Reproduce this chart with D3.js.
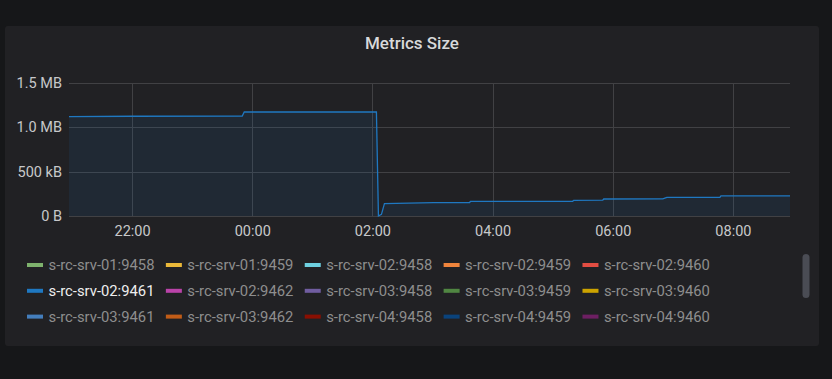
<!DOCTYPE html>
<html>
<head>
<meta charset="utf-8">
<script src="https://cdn.jsdelivr.net/npm/d3@7"></script>
<style>
  html, body { margin: 0; padding: 0; background: #161719; }
  svg { display: block; font-family: Roboto, "Noto Sans", sans-serif; }
</style>
</head>
<body>
<svg id="chart" width="832" height="379"></svg>
<script>
// panel data
var panelTitle = "Metrics Size";
var seriesNames = [
    "s-rc-srv-01:9458", "s-rc-srv-01:9459", "s-rc-srv-02:9458", "s-rc-srv-02:9459", "s-rc-srv-02:9460",
    "s-rc-srv-02:9461", "s-rc-srv-02:9462", "s-rc-srv-03:9458", "s-rc-srv-03:9459", "s-rc-srv-03:9460",
    "s-rc-srv-03:9461", "s-rc-srv-03:9462", "s-rc-srv-04:9458", "s-rc-srv-04:9459", "s-rc-srv-04:9460"
];
var seriesColors = [
    "#7EB26D", "#EAB839", "#6ED0E0", "#EF843C", "#E24D42",
    "#1F78C1", "#BA43A9", "#705DA0", "#508642", "#CCA300",
    "#447EBC", "#C15C17", "#890F02", "#0A437C", "#6D1F62"
];
var activeSeries = "s-rc-srv-02:9461";
var timeRange = ["2020-03-10T20:57", "2020-03-11T08:57"];
var timeStamps = [
    "2020-03-10T20:57", "2020-03-10T22:00", "2020-03-10T23:50", "2020-03-10T23:52",
    "2020-03-11T02:04", "2020-03-11T02:06", "2020-03-11T02:09", "2020-03-11T02:12",
    "2020-03-11T03:01", "2020-03-11T03:37", "2020-03-11T03:38", "2020-03-11T05:20",
    "2020-03-11T05:21", "2020-03-11T05:50", "2020-03-11T05:51", "2020-03-11T06:50",
    "2020-03-11T06:54", "2020-03-11T07:47", "2020-03-11T07:48", "2020-03-11T08:57"
];
var sizeBytes = [
    1120000, 1125000, 1128000, 1173000,
    1175000, 0, 19000, 139000,
    150000, 152000, 166000, 166000,
    177000, 178000, 192000, 193000,
    211000, 211000, 226000, 226000
];
var yTicks = [0, 500000, 1000000, 1500000];

var svg = d3.select("#chart");
var plot = { left: 69, right: 790, top: 83, bottom: 216 };

// panel background
svg.append("rect")
    .attr("x", 5).attr("y", 26).attr("width", 814).attr("height", 320)
    .attr("rx", 3).attr("fill", "#212124");

svg.append("text")
    .attr("x", 412).attr("y", 49)
    .attr("text-anchor", "middle")
    .attr("fill", "#d8d9da")
    .style("font-size", "17px").style("font-weight", 500)
    .text(panelTitle);

var parse = function (s) { return new Date(s); };
var x = d3.scaleTime().domain(timeRange.map(parse)).range([plot.left, plot.right]);
var y = d3.scaleLinear().domain([0, 1500000]).range([plot.bottom, plot.top]);

var fmtBytes = function (v) {
    if (v === 0) return "0 B";
    if (v < 1e6) return d3.format("d")(v / 1000) + " kB";
    return d3.format(".1f")(v / 1e6) + " MB";
};

// grid
var grid = svg.append("g").attr("stroke", "#414144").attr("stroke-width", 1);
grid.selectAll(".h").data(yTicks).enter().append("line")
    .attr("x1", plot.left).attr("x2", plot.right)
    .attr("y1", function (d) { return Math.round(y(d)) + 0.5; })
    .attr("y2", function (d) { return Math.round(y(d)) + 0.5; });
var xTicks = x.ticks(d3.timeHour.every(2));
grid.selectAll(".v").data(xTicks).enter().append("line")
    .attr("y1", plot.top).attr("y2", plot.bottom)
    .attr("x1", function (d) { return Math.round(x(d)) + 0.5; })
    .attr("x2", function (d) { return Math.round(x(d)) + 0.5; });

// axes labels
var yAxis = d3.axisLeft(y).tickValues(yTicks).tickFormat(fmtBytes).tickSize(0).tickPadding(7);
var yg = svg.append("g").attr("transform", "translate(" + plot.left + ",0)").call(yAxis);
var xAxis = d3.axisBottom(x).tickValues(xTicks).tickFormat(d3.timeFormat("%H:%M")).tickSize(0).tickPadding(10);
var xg = svg.append("g").attr("transform", "translate(0," + plot.bottom + ")").call(xAxis);
[yg, xg].forEach(function (g) {
    g.select(".domain").remove();
    g.selectAll("text").attr("fill", "#c7c8ca").style("font-size", "14.5px").style("font-family", "Roboto");
});

// series
var points = timeStamps.map(function (t, i) { return { t: parse(t), v: sizeBytes[i] }; });
var color = seriesColors[seriesNames.indexOf(activeSeries)];
svg.append("path").datum(points)
    .attr("fill", color).attr("fill-opacity", 0.1)
    .attr("d", d3.area().x(function (d) { return x(d.t); }).y0(y(0)).y1(function (d) { return y(d.v); }));
svg.append("path").datum(points)
    .attr("fill", "none").attr("stroke", color).attr("stroke-width", 1.3)
    .attr("d", d3.line().x(function (d) { return x(d.t); }).y(function (d) { return y(d.v); }));

// legend
var legend = svg.append("g").style("font-size", "14.8px");
var lx = 27, ly = 265, rowH = 25.8, maxX = 780;
seriesNames.forEach(function (name, i) {
    var item = legend.append("g");
    var txt = item.append("text")
        .attr("x", 21.5).attr("dy", "0.35em")
        .attr("fill", name === activeSeries ? "#eeeeee" : "#8e8e8e")
        .text(name);
    var w = 21.5 + txt.node().getComputedTextLength() + 11.4;
    if (lx + w > maxX) { lx = 27; ly += rowH; }
    item.attr("transform", "translate(" + lx + "," + ly + ")");
    item.append("rect").attr("x", 0).attr("y", -2).attr("width", 16).attr("height", 4)
        .attr("fill", seriesColors[i]);
    lx += w;
});

// legend scrollbar
svg.append("rect")
    .attr("x", 802.5).attr("y", 254).attr("width", 7).attr("height", 44)
    .attr("rx", 3.5).attr("fill", "#4a4c54");
</script>
</body>
</html>
